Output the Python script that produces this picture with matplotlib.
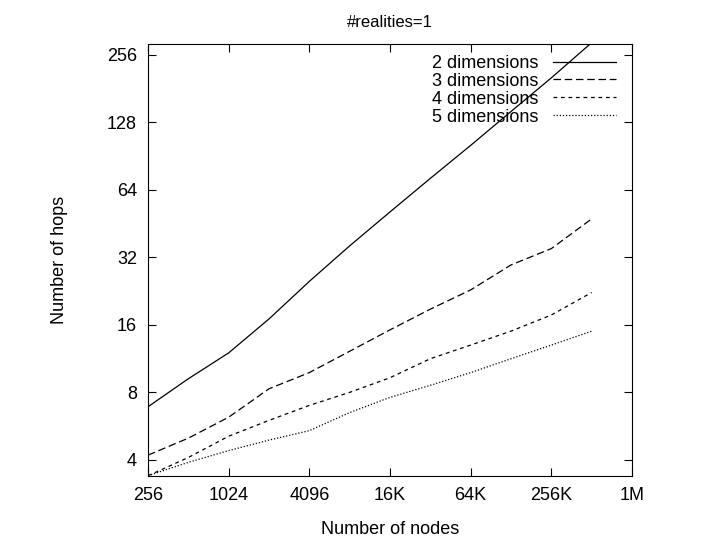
import matplotlib
matplotlib.use("Agg")
import matplotlib.pyplot as plt
from matplotlib.ticker import FixedLocator, NullLocator

plt.rcParams['font.family'] = ['Liberation Sans', 'DejaVu Sans']

nodes = [256, 512, 1024, 2048, 4096, 8192, 16384, 32768, 65536, 131072, 262144, 524288]
d2 = [6.9, 9.2, 12, 17, 25, 36, 51, 72, 101, 143, 202, 290]
d3 = [4.2, 5.0, 6.2, 8.3, 9.8, 12.2, 15.2, 18.8, 22.9, 29.6, 35, 47.5]
d4 = [3.4, 4.1, 5.1, 6.0, 7.0, 8.0, 9.3, 11.3, 13, 15, 17.7, 22.3]
d5 = [3.4, 3.9, 4.4, 4.9, 5.4, 6.5, 7.6, 8.6, 9.8, 11.3, 13, 15]
xticks = [256, 1024, 4096, 16384, 65536, 262144, 1048576]
xlabels = ['256', '1024', '4096', '16K', '64K', '256K', '1M']
yticks = [4, 8, 16, 32, 64, 128, 256]

fig = plt.figure(figsize=(7.2, 5.4), dpi=100)
ax = fig.add_axes([148/720, 1-476/540, (632-148)/720, (476-44)/540])
ax.set_xscale('log', base=2)
ax.set_yscale('log', base=2)
ax.plot(nodes, d2, 'k-', lw=0.9, label='2 dimensions')
ax.plot(nodes, d3, 'k', ls=(0, (6, 3)), lw=0.9, label='3 dimensions')
ax.plot(nodes, d4, 'k', ls=(0, (3, 3)), lw=0.9, label='4 dimensions')
ax.plot(nodes, d5, 'k', ls=(0, (1, 1.5)), lw=0.9, label='5 dimensions')
ax.set_xlim(256, 1048576)
ax.set_ylim(3.39, 286)
ax.xaxis.set_major_locator(FixedLocator(xticks))
ax.set_xticklabels(xlabels)
ax.xaxis.set_minor_locator(NullLocator())
ax.yaxis.set_major_locator(FixedLocator(yticks))
ax.set_yticklabels([str(v) for v in yticks])
ax.yaxis.set_minor_locator(NullLocator())
ax.tick_params(direction='in', top=True, right=True, labelsize=13, length=6, pad=8)
ax.set_xlabel('Number of nodes', fontsize=13, labelpad=12)
ax.set_ylabel('Number of hops', fontsize=13, labelpad=28)
ax.set_title('#realities=1', fontsize=12, pad=12)
leg = ax.legend(loc='upper right', frameon=False, fontsize=13, markerfirst=False,
                handlelength=3.5, labelspacing=0.05, borderaxespad=0.2, bbox_to_anchor=(0.99, 1.0))
fig.savefig('out.png', dpi=100)
